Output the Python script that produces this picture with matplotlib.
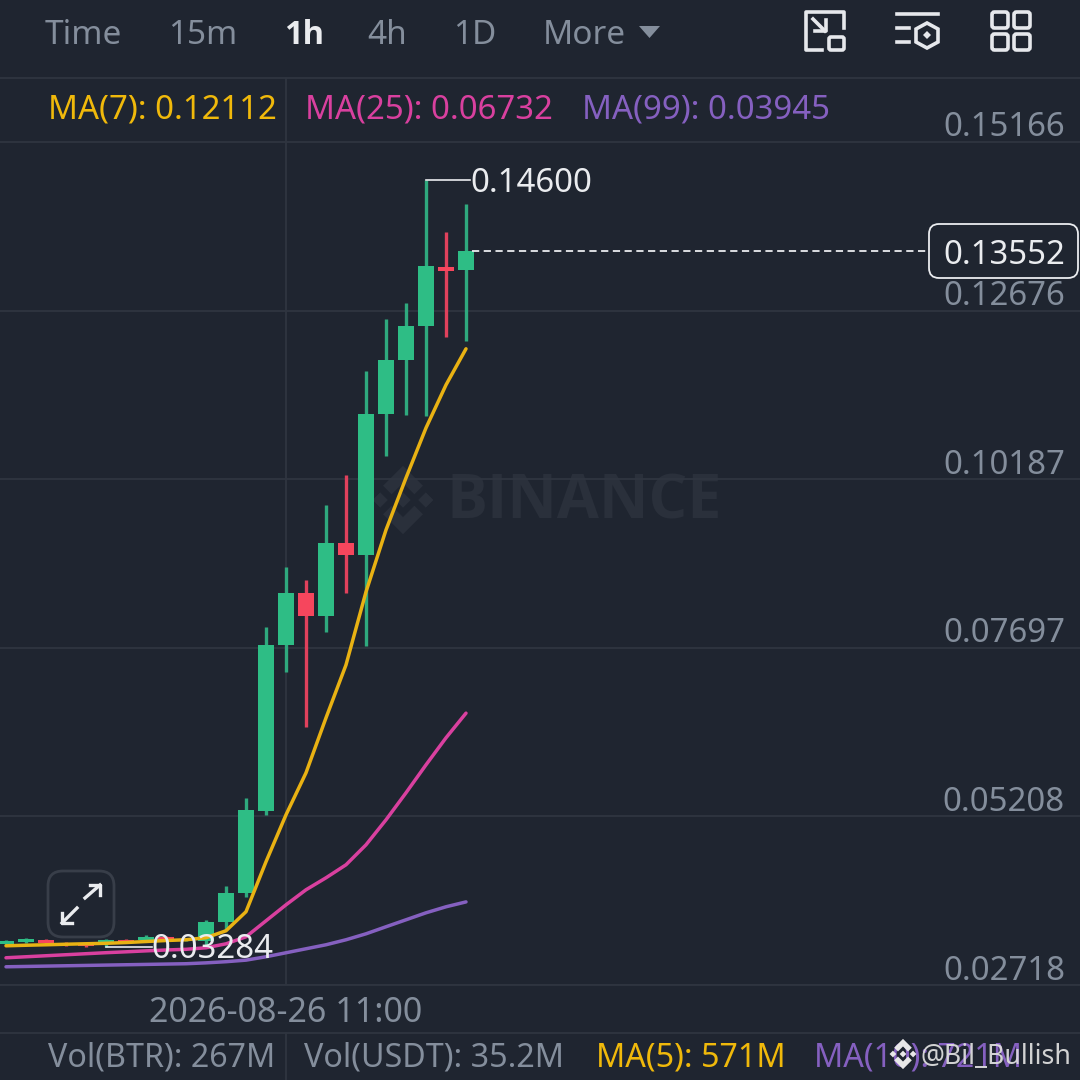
"""Recreate the BTR/USDT 1h candlestick screenshot."""
import matplotlib
matplotlib.use("Agg")
import matplotlib.pyplot as plt
import numpy as np
from matplotlib.patches import FancyBboxPatch, Polygon

plt.rcParams["font.family"] = ["Noto Sans", "DejaVu Sans"]

BG = "#1f2530"
GRID = "#2f3540"
GREY = "#848e9c"
GREEN = "#2ebd85"
RED = "#f6465d"
YELLOW = "#f0b90b"
PINK = "#d9409f"
PURPLE = "#8560c0"
WHITE = "#eaecef"
FS = 23.7

# candles, oldest first
opens = [0.03327, 0.03356, 0.03380, 0.03341, 0.03327, 0.03341, 0.03386, 0.03386,
         0.03430, 0.03386, 0.03371, 0.03652, 0.04080, 0.05290, 0.07741, 0.08508,
         0.08169, 0.09246, 0.09069, 0.11151, 0.11948, 0.12450, 0.13321, 0.13276]
closes = [0.03371, 0.03401, 0.03341, 0.03312, 0.03297, 0.03386, 0.03356, 0.03430,
          0.03386, 0.03401, 0.03652, 0.04080, 0.05305, 0.07741, 0.08508, 0.08169,
          0.09246, 0.09069, 0.11151, 0.11948, 0.12450, 0.13336, 0.13262, 0.13552]
highs = [0.03386, 0.03416, 0.03401, 0.03356, 0.03341, 0.03401, 0.03401, 0.03460,
         0.03445, 0.03416, 0.03681, 0.04183, 0.05482, 0.08006, 0.08892, 0.08700,
         0.09807, 0.10250, 0.11785, 0.12553, 0.12789, 0.14600, 0.13837, 0.14251]
lows = [0.03312, 0.03341, 0.03327, 0.03297, 0.03284, 0.03284, 0.03341, 0.03371,
        0.03371, 0.03371, 0.03312, 0.03534, 0.04021, 0.05231, 0.07342, 0.06530,
        0.07933, 0.08508, 0.07726, 0.10531, 0.11136, 0.11121, 0.12287, 0.12228]

ma7 = [0.03297, 0.03305, 0.03312, 0.03320, 0.03327, 0.03334, 0.03345, 0.03360,
       0.03375, 0.03386, 0.03416, 0.03519, 0.03800, 0.04538, 0.05231, 0.05851,
       0.06663, 0.07445, 0.08523, 0.09438, 0.10206, 0.10944, 0.11579, 0.12112]
ma25 = [0.03120, 0.03135, 0.03150, 0.03165, 0.03180, 0.03195, 0.03208, 0.03222,
        0.03235, 0.03245, 0.03268, 0.03326, 0.03430, 0.03666, 0.03902, 0.04124,
        0.04301, 0.04493, 0.04788, 0.05157, 0.05556, 0.05969, 0.06368, 0.06732]
ma99 = [0.02987, 0.02992, 0.02997, 0.03002, 0.03007, 0.03012, 0.03017, 0.03022,
        0.03027, 0.03032, 0.03045, 0.03062, 0.03085, 0.03135, 0.03194, 0.03253,
        0.03312, 0.03386, 0.03474, 0.03578, 0.03681, 0.03784, 0.03873, 0.03945]

price_ticks = [0.15166, 0.12676, 0.10187, 0.07697, 0.05208, 0.02718]
tick_labels = ["0.15166", "0.12676", "0.10187", "0.07697", "0.05208", "0.02718"]
last_price = 0.13552
high_price = 0.14600
low_price = 0.03284
high_idx = 21
low_idx = 5
crosshair_idx = 14

timeframes = ["Time", "15m", "1h", "4h", "1D", "More"]
timeframe_x = [45, 168, 284, 367, 453, 543]

# price <-> pixel: 0.15166 sits at y=142, 168.6px per tick step
PX_PER_PRICE = 6774.0
def price_at(y):
    return 0.15166 - (y - 142) / PX_PER_PRICE

fig = plt.figure(figsize=(10.8, 10.8), dpi=100, facecolor=BG)

# pixel-space layers for the app chrome
back = fig.add_axes([0, 0, 1, 1], zorder=0)
front = fig.add_axes([0, 0, 1, 1], zorder=2)
for a in (back, front):
    a.set_xlim(0, 1080)
    a.set_ylim(1080, 0)
    a.axis("off")

def diamond(a, cx, cy, r, color, zorder=1):
    a.add_patch(Polygon([(cx - r, cy), (cx, cy - r), (cx + r, cy), (cx, cy + r)],
                        closed=True, fc=color, ec="none", zorder=zorder))

def chevron(a, cx, cy, r, t, up, color, zorder=1):
    s = -1 if up else 1
    pts = [(cx - r, cy), (cx, cy + s * r), (cx + r, cy),
           (cx + r - t, cy - s * t), (cx, cy + s * (r - 2 * t)), (cx - r + t, cy - s * t)]
    a.add_patch(Polygon(pts, closed=True, fc=color, ec="none", zorder=zorder))

def binance_logo(a, cx, cy, k, color, zorder=1):
    chevron(a, cx, cy - 15 * k, 21 * k, 9 * k, True, color, zorder)
    chevron(a, cx, cy + 15 * k, 21 * k, 9 * k, False, color, zorder)
    diamond(a, cx - 24 * k, cy, 8 * k, color, zorder)
    diamond(a, cx + 24 * k, cy, 8 * k, color, zorder)
    diamond(a, cx, cy, 8 * k, color, zorder)

# BINANCE watermark, under the candles
binance_logo(back, 403, 500, 0.95, "#2a303b")
back.text(446, 503, "BINANCE", fontsize=43.8, fontweight="bold", color="#2a303b",
          family="Open Sans", va="center", ha="left")

# lower row dividers
back.plot([0, 1080], [1033, 1033], color=GRID, lw=1.3)
back.plot([286, 286], [1033, 1080], color=GRID, lw=1.3)

# chart
ax = fig.add_axes([0, (1080 - 985) / 1080, 1, (985 - 78) / 1080], zorder=1)
ax.patch.set_alpha(0)
ax.set_xlim(-0.3, 53.7)
ax.set_ylim(price_at(985), price_at(78))
ax.set_yticks(price_ticks)
ax.set_xticks([crosshair_idx])
ax.grid(True, color=GRID, lw=1.3, zorder=0)
ax.tick_params(length=0, labelleft=False, labelbottom=False)
for name, s in ax.spines.items():
    s.set_visible(name in ("top", "bottom"))
    s.set_color(GRID)
    s.set_linewidth(1.3)

idx = np.arange(len(opens))
o, h, l, c = map(np.array, (opens, highs, lows, closes))
up = c >= o
colors = np.where(up, GREEN, RED)
wick_colors = np.where(up, "#2fa97e", "#e0415c")
ax.vlines(idx, l, h, color=wick_colors, lw=2.4, zorder=2)
ax.bar(idx, np.abs(c - o), bottom=np.minimum(o, c), width=0.84, color=colors, zorder=3)

ax.plot(idx, ma25, color=PINK, lw=2.5, zorder=4, solid_capstyle="round")
ax.plot(idx, ma99, color=PURPLE, lw=2.5, zorder=4, solid_capstyle="round")
ax.plot(idx, ma7, color="#e9b213", lw=2.5, zorder=4, solid_capstyle="round")

# axis labels sit just above their grid line
for p, t in zip(price_ticks, tick_labels):
    ax.annotate(t, (1065, p), xycoords=("figure pixels", "data"), xytext=(0, 14),
                textcoords="offset pixels", ha="right", va="center",
                color=GREY, fontsize=FS, zorder=5, annotation_clip=False)

# last price marker
ax.hlines(last_price, idx[-1] + 0.3, 46.1, color=WHITE, lw=1.3,
          linestyles=(0, (4, 2.5)), zorder=5)
ax.annotate(f"{high_price:.5f}", (high_idx, high_price), xytext=(44, -3),
            textcoords="offset pixels", color=WHITE, fontsize=FS, va="center", ha="left",
            zorder=6, annotation_clip=False)
ax.plot([high_idx, high_idx + 2.2], [high_price, high_price], color=WHITE, lw=1.2, zorder=6)
ax.plot([low_idx, low_idx + 2.3], [low_price, low_price], color=WHITE, lw=1.2, zorder=6)
ax.annotate(f"{low_price:.5f}", (low_idx, low_price), xytext=(45, -3),
            textcoords="offset pixels", color=WHITE, fontsize=FS, va="center", ha="left",
            zorder=6)

# top bar
for name, x in zip(timeframes, timeframe_x):
    if name == "1h":
        front.text(x, 36, name, fontsize=23.5, color=WHITE, fontweight="bold",
                   family="Open Sans", va="center", ha="left")
    else:
        front.text(x, 36, name, fontsize=24, color=GREY, va="center", ha="left")
front.add_patch(Polygon([(639, 26), (660, 26), (649.5, 38)], closed=True, fc=GREY, ec="none"))

# top-right icons
ICON = "#e6e8ec"
LW = 2.6
front.plot([844, 844, 806, 806, 822], [28, 12, 12, 50, 50], color=ICON, lw=LW, solid_joinstyle="round")
front.plot([813, 825], [19, 31], color=ICON, lw=LW)
front.plot([815, 826, 826], [31, 31, 20], color=ICON, lw=LW)
front.add_patch(FancyBboxPatch((829, 37), 15, 13, boxstyle="round,pad=0,rounding_size=2",
                               fc="none", ec=ICON, lw=LW))
front.plot([897, 938], [14, 14], color=ICON, lw=LW)
front.plot([897, 909], [28, 28], color=ICON, lw=LW)
front.plot([897, 909], [42, 42], color=ICON, lw=LW)
front.add_patch(Polygon([(927, 23), (938, 29), (938, 42), (927, 48), (916, 42), (916, 29)],
                        closed=True, fc="none", ec=ICON, lw=LW))
diamond(front, 927, 35, 4, ICON, zorder=3)
for x0 in (992, 1014):
    for y0 in (12, 34):
        front.add_patch(FancyBboxPatch((x0, y0), 16, 16, boxstyle="round,pad=0,rounding_size=2.5",
                                       fc="none", ec=ICON, lw=LW))

# MA legend
front.text(48, 110, "MA(7): 0.12112", color=YELLOW, fontsize=FS, va="center")
front.text(305, 110, "MA(25): 0.06732", color=PINK, fontsize=FS, va="center")
front.text(582, 110, "MA(99): 0.03945", color=PURPLE, fontsize=FS, va="center")

# last price box
front.add_patch(FancyBboxPatch((929, 224), 149, 54, boxstyle="round,pad=0,rounding_size=10",
                               fc=BG, ec=WHITE, lw=1.3))
front.text(1004, 255, f"{last_price:.5f}", color=WHITE, fontsize=FS, ha="center", va="center")

# expand button
front.add_patch(FancyBboxPatch((48, 871), 66, 66, boxstyle="round,pad=0,rounding_size=15",
                               fc=BG, ec="#383e49", lw=2))
front.plot([85, 100], [898, 885], color=WHITE, lw=2.4)
front.plot([90, 100, 100], [885, 885, 895], color=WHITE, lw=2.4)
front.plot([62, 77], [923, 908], color=WHITE, lw=2.4)
front.plot([62, 62, 72], [913, 923, 923], color=WHITE, lw=2.4)

# bottom rows
front.text(286, 1013, "2026-08-26 11:00", color=GREY, fontsize=24.5, ha="center", va="center")
front.text(48, 1058, "Vol(BTR): 267M", color=GREY, fontsize=23.2, va="center")
front.text(304, 1058, "Vol(USDT): 35.2M", color=GREY, fontsize=23.2, va="center")
front.text(596, 1058, "MA(5): 571M", color=YELLOW, fontsize=23.2, va="center")
front.text(814, 1058, "MA(10): 721M", color=PURPLE, fontsize=23.2, va="center")

# author watermark
binance_logo(front, 903, 1054, 0.42, "#e8e8e8", zorder=5)
front.text(921, 1057, "@Bil_Bullish", color="#dcdcdc", fontsize=19.2, va="center", alpha=0.95, zorder=5)

fig.savefig("out.png", dpi=100, facecolor=BG)
plt.close(fig)
